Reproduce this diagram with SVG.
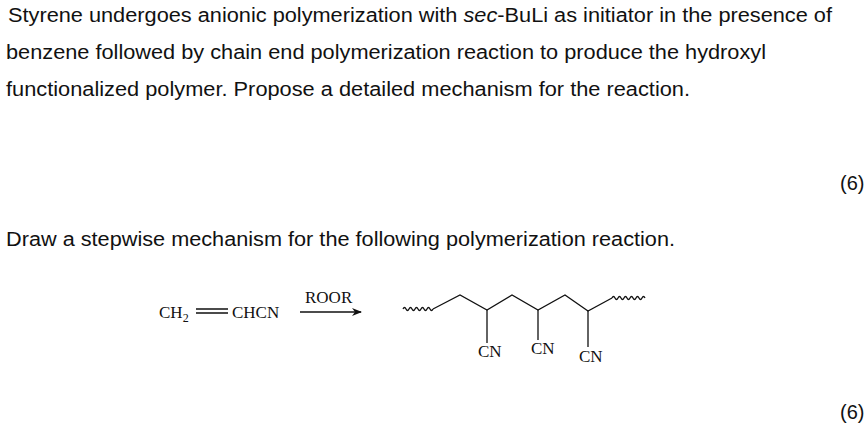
<svg xmlns="http://www.w3.org/2000/svg" width="867" height="432" viewBox="0 0 867 432">
<style>
.t{font-family:"Liberation Sans",Arial,sans-serif;font-size:20px;fill:#111}
.c{font-family:"Liberation Serif","Times New Roman",serif;font-size:17px;fill:#111}
.b{stroke:#111;stroke-width:1.3;fill:none}
</style>
<defs><marker id="ah" markerWidth="10" markerHeight="8" refX="9" refY="4" orient="auto" markerUnits="userSpaceOnUse"><path d="M0,0 L10,4 L0,8 L3,4 Z" fill="#111"/></marker></defs>
<rect width="867" height="432" fill="#fff"/>
<g id="question1">
<text class="t" x="8" y="22" textLength="824" lengthAdjust="spacingAndGlyphs">Styrene undergoes anionic polymerization with <tspan font-style="italic">sec</tspan>-BuLi as initiator in the presence of</text>
<text class="t" x="6" y="59" textLength="760" lengthAdjust="spacingAndGlyphs">benzene followed by chain end polymerization reaction to produce the hydroxyl</text>
<text class="t" x="6" y="96" textLength="684" lengthAdjust="spacingAndGlyphs">functionalized polymer. Propose a detailed mechanism for the reaction.</text>
<text class="t" x="840" y="190">(6)</text>
</g>
<g id="question2">
<text class="t" x="6" y="246" textLength="669" lengthAdjust="spacingAndGlyphs">Draw a stepwise mechanism for the following polymerization reaction.</text>
<text class="t" x="840" y="419">(6)</text>
</g>
<g id="monomer">
<text class="c" x="159" y="318">CH<tspan font-size="12" dy="4">2</tspan></text>
<text class="c" x="232" y="318">CHCN</text>
</g>
<g id="polymer">
<path class="b" d="M433,309 L460,295 L487,310 L512,295 L538,310 L565,295 L588,311 L612,298"/>
<path class="b" d="M487,310 V343 M538,310 V340 M588,311 V347"/>
<path class="b" stroke-width="0.9" d="M403,309 q1.5,-3 3,0 t3,0 t3,0 t3,0 t3,0 t3,0 t3,0 t3,0 t3,0 t3,0 M612,298 q1.5,-3 3,0 t3,0 t3,0 t3,0 t3,0 t3,0 t3,0 t3,0 t3,0 t3,0 t3,0"/>
<text class="c" x="478" y="357">CN</text>
<text class="c" x="531" y="354">CN</text>
<text class="c" x="579" y="362">CN</text>
</g>
<g id="connectors">
<path class="b" d="M196,309 H228 M196,313 H228"/>
<line class="b" x1="300" y1="312" x2="361" y2="312" marker-end="url(#ah)"/>
<text class="c" x="305" y="303">ROOR</text>
</g>
</svg>
